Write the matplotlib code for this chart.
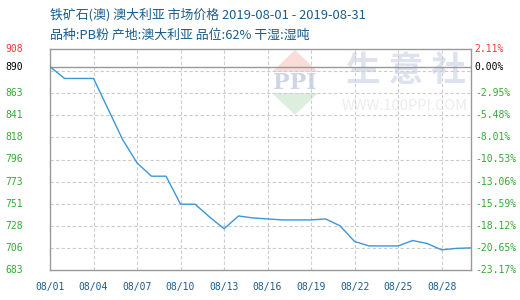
import matplotlib
matplotlib.use('Agg')
import matplotlib.pyplot as plt
from matplotlib.patches import Polygon
import numpy as np

plt.rcParams['font.family'] = ['Noto Sans CJK SC', 'DejaVu Sans']

# daily prices, 08/01 .. 08/30
days = list(range(1, 31))
prices = [890, 878, 878, 878, 847, 816, 792, 778.5, 778.5, 750,
          750, 737, 725, 738, 736, 735, 734, 734, 734, 735,
          728, 712, 707.5, 707.5, 707.5, 713, 710, 703.5, 705, 705.5]

base = 890
y_min, y_max = 683, 908
grid_vals = [683 + 22.5 * k for k in range(11)]
left_labels = ['683', '706', '728', '751', '773', '796', '818', '841', '863']
right_labels = ['-23.17%', '-20.65%', '-18.12%', '-15.59%', '-13.06%', '-10.53%',
                '-8.01%', '-5.48%', '-2.95%']
xtick_days = list(range(1, 30, 3))
xtick_labels = ['08/%02d' % d for d in xtick_days]

GREEN = '#33aa33'
RED = '#ff3333'
BLUE_TXT = '#1a5c8c'

fig = plt.figure(figsize=(5.2, 3.0), dpi=100)
ax = fig.add_axes([50 / 520, 30 / 300, 420.6 / 520, 221 / 300])

ax.set_xlim(1, 30)
ax.set_ylim(y_min, y_max)

# grid
for v in grid_vals[1:-1]:
    ax.axhline(v, color='#cccccc', lw=0.8, ls=(0, (3, 2)), zorder=1)
for d in xtick_days[1:]:
    ax.axvline(d, color='#cccccc', lw=0.8, ls=(0, (3, 2)), zorder=1)
ax.axhline(base, color='#999999', lw=1.0, zorder=2)

for s in ax.spines.values():
    s.set_color('#999999')
    s.set_linewidth(1.0)

# watermark
tr = ax.transAxes
def fx(px):
    return (px - 50) / 420.6
def fy(py):
    return (270 - py) / 221
ax.add_patch(Polygon([(fx(295), fy(50)), (fx(318), fy(72)), (fx(272), fy(72))],
                     closed=True, transform=tr, color='#f9dcd8', lw=0, zorder=0))
ax.add_patch(Polygon([(fx(272), fy(93)), (fx(318), fy(93)), (fx(295), fy(115))],
                     closed=True, transform=tr, color='#dcefdf', lw=0, zorder=0))
ax.text(fx(295), fy(83), 'PPI', transform=tr, ha='center', va='center',
        fontsize=16, color='#cdd5e6', family='DejaVu Serif', fontweight='bold', zorder=0)
ax.text(fx(406), fy(71), '生 意 社', transform=tr, ha='center', va='center',
        fontsize=25, color='#dde2ee', fontweight='bold', zorder=0)
ax.text(fx(405), fy(106), 'WWW.100PPI.COM', transform=tr, ha='center', va='center',
        fontsize=10.5, color='#ececec', zorder=0)

ax.plot(days, prices, color='#3b97d6', lw=1.0, zorder=3)

# y tick labels
ax.set_yticks([])
ax.set_xticks([])
mono = 'DejaVu Sans Mono'
ltr = ax.get_yaxis_transform()
lx = -0.107
for v, lab, rlab in zip(grid_vals[:9], left_labels, right_labels):
    ax.text(lx, v, lab, transform=ltr, ha='left', va='center',
            fontsize=7, color=GREEN, family=mono)
    ax.text(1.01, v, rlab, transform=ltr, ha='left', va='center',
            fontsize=7, color=GREEN, family=mono)
ax.text(lx, base, str(base), transform=ltr, ha='left', va='center',
        fontsize=7, color='black', family=mono)
ax.text(1.01, base, '0.00%', transform=ltr, ha='left', va='center',
        fontsize=7, color='black', family=mono)
ax.text(lx, y_max, str(y_max), transform=ltr, ha='left', va='center',
        fontsize=7, color=RED, family=mono)
ax.text(1.01, y_max, '2.11%', transform=ltr, ha='left', va='center',
        fontsize=7, color=RED, family=mono)

xtr = ax.get_xaxis_transform()
for d, lab in zip(xtick_days, xtick_labels):
    ax.text(d, -0.075, lab, transform=xtr, ha='center', va='center',
            fontsize=7, color=BLUE_TXT, family=mono)

fig.text(50 / 520, 1 - 15 / 300, '铁矿石(澳) 澳大利亚 市场价格 2019-08-01 - 2019-08-31',
         ha='left', va='center', fontsize=9.3, color=BLUE_TXT)
fig.text(50 / 520, 1 - 35 / 300, '品种:PB粉 产地:澳大利亚 品位:62% 干湿:湿吨',
         ha='left', va='center', fontsize=9.3, color=BLUE_TXT)

fig.savefig('out.png', dpi=100)
